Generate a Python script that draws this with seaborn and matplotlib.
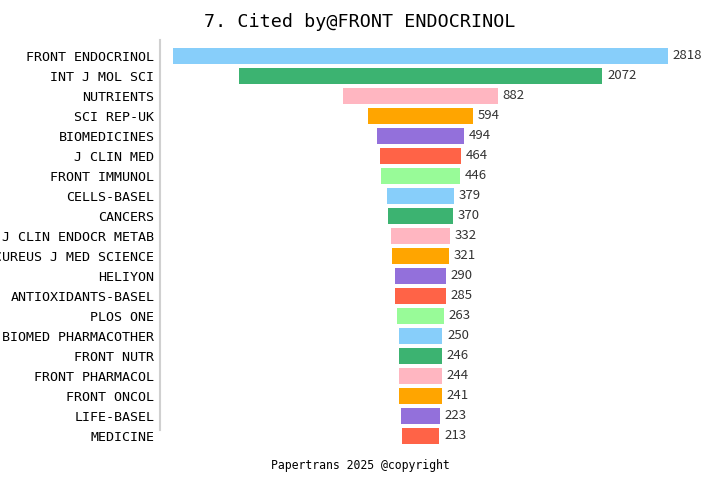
import matplotlib
matplotlib.use("Agg")
import matplotlib.pyplot as plt
import seaborn as sns
import pandas as pd

# --- data ---
journals = [
    "FRONT ENDOCRINOL", "INT J MOL SCI", "NUTRIENTS", "SCI REP-UK", "BIOMEDICINES",
    "J CLIN MED", "FRONT IMMUNOL", "CELLS-BASEL", "CANCERS", "J CLIN ENDOCR METAB",
    "CUREUS J MED SCIENCE", "HELIYON", "ANTIOXIDANTS-BASEL", "PLOS ONE",
    "BIOMED PHARMACOTHER", "FRONT NUTR", "FRONT PHARMACOL", "FRONT ONCOL",
    "LIFE-BASEL", "MEDICINE",
]
counts = [2818, 2072, 882, 594, 494, 464, 446, 379, 370, 332,
          321, 290, 285, 263, 250, 246, 244, 241, 223, 213]
base_colors = ["#87CEFA", "#3CB371", "#FFB6C1", "#FFA500", "#9370DB", "#FF6347", "#98FB98"]

title = "7. Cited by@FRONT ENDOCRINOL"
footer = "Papertrans 2025 @copyright"

df = pd.DataFrame({"journal": journals, "count": counts})
palette = [base_colors[i % len(base_colors)] for i in range(len(journals))]

sns.set_style("white")
mono = ["DejaVu Sans Mono", "Noto Sans CJK SC"]

fig = plt.figure(figsize=(7.2, 4.8), dpi=100)
ax = fig.add_axes([0.2222, 0.0667, 0.7236, 0.85])

sns.barplot(data=df, y="journal", x="count", hue="journal", palette=palette,
            legend=False, width=0.8, linewidth=0, saturation=1, ax=ax)

# centre each bar on zero (funnel look)
for patch in ax.patches:
    patch.set_x(-patch.get_width() / 2)

half = max(counts) * 0.5263
ax.set_xlim(-half, half)
ax.set_ylim(len(journals) - 0.4, -0.8)

for i, v in enumerate(counts):
    ax.annotate(str(v), xy=(v / 2, i), xytext=(3.5, 0), textcoords="offset points",
                va="center", ha="left", fontsize=9.5, color="#333333",
                family=["Noto Sans CJK SC", "DejaVu Sans"])

ax.set_xlabel("")
ax.set_ylabel("")
ax.set_xticks([])
ax.tick_params(axis="y", length=0, pad=4)
for lab in ax.get_yticklabels():
    lab.set_family(mono)
    lab.set_fontsize(9.6)
    lab.set_color("black")

for s in ["top", "right", "bottom"]:
    ax.spines[s].set_visible(False)
ax.spines["left"].set_color("#d0d0d0")
ax.spines["left"].set_linewidth(1.5)
ax.spines["left"].set_bounds(18.7, -0.8)

fig.suptitle(title, x=0.5, y=0.955, fontsize=13.2, family=mono, va="center", color="black")
fig.text(0.5, 0.031, footer, ha="center", va="center", fontsize=8.3, family=mono, color="black")

fig.savefig("out.png", dpi=100)
